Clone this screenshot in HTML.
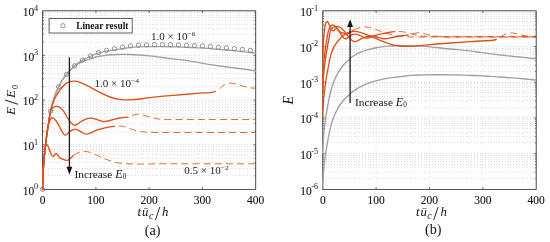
<!DOCTYPE html>
<html lang="en"><head><meta charset="utf-8"><title>Figure</title>
<style>html,body{margin:0;padding:0;background:#fff}svg{display:block}</style>
</head><body>
<svg width="550" height="242" viewBox="0 0 550 242">
<style>
text{font-family:"Liberation Serif",serif;fill:#111}
.tl{font-size:11.5px;stroke:#111;stroke-width:.1}
.sup{font-size:8.2px}
.mg{stroke:#dedede;stroke-width:1;stroke-dasharray:1 1.8;shape-rendering:crispEdges}
.Mg{stroke:#dadada;stroke-width:1;stroke-dasharray:1 1.8;shape-rendering:crispEdges}
.Vg{stroke:#dedede;stroke-width:.7;stroke-dasharray:1 1.8}
.box{fill:none;stroke:#3a3a3a;stroke-width:.9}
.tk{fill:none;stroke:#3a3a3a;stroke-width:.7}
.m{font-style:italic}
.an{font-size:9.8px;fill:#222}
</style>
<rect width="550" height="242" fill="#fff"/>
<g id="pa">
<line x1="42.6" x2="255.7" y1="175.96" y2="175.96" class="mg"/>
<line x1="42.6" x2="255.7" y1="168.1" y2="168.1" class="mg"/>
<line x1="42.6" x2="255.7" y1="162.52" y2="162.52" class="mg"/>
<line x1="42.6" x2="255.7" y1="158.19" y2="158.19" class="mg"/>
<line x1="42.6" x2="255.7" y1="154.66" y2="154.66" class="mg"/>
<line x1="42.6" x2="255.7" y1="151.67" y2="151.67" class="mg"/>
<line x1="42.6" x2="255.7" y1="149.08" y2="149.08" class="mg"/>
<line x1="42.6" x2="255.7" y1="146.79" y2="146.79" class="mg"/>
<line x1="42.6" x2="255.7" y1="131.31" y2="131.31" class="mg"/>
<line x1="42.6" x2="255.7" y1="123.45" y2="123.45" class="mg"/>
<line x1="42.6" x2="255.7" y1="117.87" y2="117.87" class="mg"/>
<line x1="42.6" x2="255.7" y1="113.54" y2="113.54" class="mg"/>
<line x1="42.6" x2="255.7" y1="110.01" y2="110.01" class="mg"/>
<line x1="42.6" x2="255.7" y1="107.02" y2="107.02" class="mg"/>
<line x1="42.6" x2="255.7" y1="104.43" y2="104.43" class="mg"/>
<line x1="42.6" x2="255.7" y1="102.14" y2="102.14" class="mg"/>
<line x1="42.6" x2="255.7" y1="86.66" y2="86.66" class="mg"/>
<line x1="42.6" x2="255.7" y1="78.8" y2="78.8" class="mg"/>
<line x1="42.6" x2="255.7" y1="73.22" y2="73.22" class="mg"/>
<line x1="42.6" x2="255.7" y1="68.89" y2="68.89" class="mg"/>
<line x1="42.6" x2="255.7" y1="65.36" y2="65.36" class="mg"/>
<line x1="42.6" x2="255.7" y1="62.37" y2="62.37" class="mg"/>
<line x1="42.6" x2="255.7" y1="59.78" y2="59.78" class="mg"/>
<line x1="42.6" x2="255.7" y1="57.49" y2="57.49" class="mg"/>
<line x1="42.6" x2="255.7" y1="42.01" y2="42.01" class="mg"/>
<line x1="42.6" x2="255.7" y1="34.15" y2="34.15" class="mg"/>
<line x1="42.6" x2="255.7" y1="28.57" y2="28.57" class="mg"/>
<line x1="42.6" x2="255.7" y1="24.24" y2="24.24" class="mg"/>
<line x1="42.6" x2="255.7" y1="20.71" y2="20.71" class="mg"/>
<line x1="42.6" x2="255.7" y1="17.72" y2="17.72" class="mg"/>
<line x1="42.6" x2="255.7" y1="15.13" y2="15.13" class="mg"/>
<line x1="42.6" x2="255.7" y1="12.84" y2="12.84" class="mg"/>
<line x1="42.6" x2="255.7" y1="144.75" y2="144.75" class="Mg"/>
<line x1="42.6" x2="255.7" y1="100.1" y2="100.1" class="Mg"/>
<line x1="42.6" x2="255.7" y1="55.45" y2="55.45" class="Mg"/>
<line x1="95.88" x2="95.88" y1="10.8" y2="189.4" class="Vg"/>
<line x1="149.15" x2="149.15" y1="10.8" y2="189.4" class="Vg"/>
<line x1="202.42" x2="202.42" y1="10.8" y2="189.4" class="Vg"/>
<rect x="42.6" y="10.8" width="213.1" height="178.6" class="box"/>
<path d="M95.88 189.4v-2.2M95.88 10.8v2.2M149.15 189.4v-2.2M149.15 10.8v2.2M202.42 189.4v-2.2M202.42 10.8v2.2M42.6 175.96h1.2M255.7 175.96h-1.2M42.6 168.1h1.2M255.7 168.1h-1.2M42.6 162.52h1.2M255.7 162.52h-1.2M42.6 158.19h1.2M255.7 158.19h-1.2M42.6 154.66h1.2M255.7 154.66h-1.2M42.6 151.67h1.2M255.7 151.67h-1.2M42.6 149.08h1.2M255.7 149.08h-1.2M42.6 146.79h1.2M255.7 146.79h-1.2M42.6 144.75h2.2M255.7 144.75h-2.2M42.6 131.31h1.2M255.7 131.31h-1.2M42.6 123.45h1.2M255.7 123.45h-1.2M42.6 117.87h1.2M255.7 117.87h-1.2M42.6 113.54h1.2M255.7 113.54h-1.2M42.6 110.01h1.2M255.7 110.01h-1.2M42.6 107.02h1.2M255.7 107.02h-1.2M42.6 104.43h1.2M255.7 104.43h-1.2M42.6 102.14h1.2M255.7 102.14h-1.2M42.6 100.1h2.2M255.7 100.1h-2.2M42.6 86.66h1.2M255.7 86.66h-1.2M42.6 78.8h1.2M255.7 78.8h-1.2M42.6 73.22h1.2M255.7 73.22h-1.2M42.6 68.89h1.2M255.7 68.89h-1.2M42.6 65.36h1.2M255.7 65.36h-1.2M42.6 62.37h1.2M255.7 62.37h-1.2M42.6 59.78h1.2M255.7 59.78h-1.2M42.6 57.49h1.2M255.7 57.49h-1.2M42.6 55.45h2.2M255.7 55.45h-2.2M42.6 42.01h1.2M255.7 42.01h-1.2M42.6 34.15h1.2M255.7 34.15h-1.2M42.6 28.57h1.2M255.7 28.57h-1.2M42.6 24.24h1.2M255.7 24.24h-1.2M42.6 20.71h1.2M255.7 20.71h-1.2M42.6 17.72h1.2M255.7 17.72h-1.2M42.6 15.13h1.2M255.7 15.13h-1.2M42.6 12.84h1.2M255.7 12.84h-1.2" class="tk"/>
<clipPath id="ca"><rect x="39.6" y="10.8" width="216.7" height="181.6"/></clipPath>
<g clip-path="url(#ca)">
<path d="M42.6 189.4C42.62 187.27 42.64 185.15 42.69 183C42.75 180.7 42.83 178.38 42.94 176C43.07 173.37 43.22 170.68 43.39 168C43.57 165.32 43.77 162.66 44 160C44.22 157.33 44.47 154.67 44.74 152C45.02 149.33 45.31 146.66 45.63 144C45.94 141.33 46.28 138.66 46.64 136C47 133.33 47.38 130.66 47.78 128C48.19 125.33 48.62 122.67 49.04 120C49.5 117.11 49.95 114.22 50.59 111.1C51.47 106.78 52.7 102.03 54.2 97.6C55.51 93.73 57.02 90.12 58.6 86.8C59.76 84.36 60.95 82.09 62.3 80C63.57 78.04 64.97 76.24 66.57 74.3C68.9 71.48 71.65 68.36 74.56 65.8C77.11 63.56 79.78 61.76 82.56 60.19C85.15 58.71 87.83 57.43 90.55 56.25C93.18 55.11 95.84 54.08 98.54 53.22C101.17 52.38 103.84 51.72 106.53 51.18C109.18 50.66 111.85 50.26 114.52 49.85C117.19 49.45 119.85 49.03 122.51 48.61C125.17 48.18 127.83 47.74 130.5 47.44C133.16 47.14 135.83 46.98 138.5 46.87C141.16 46.77 143.82 46.73 146.49 46.7C149.15 46.66 151.81 46.64 154.48 46.62C157.14 46.6 159.81 46.59 162.47 46.61C165.13 46.62 167.8 46.67 170.46 46.72C173.12 46.77 175.79 46.82 178.45 46.94C181.12 47.06 183.78 47.25 186.44 47.36C189.11 47.46 191.77 47.47 194.43 47.57C197.1 47.67 199.76 47.87 202.42 48.04C205.09 48.21 207.76 48.36 210.42 48.61C213.08 48.85 215.74 49.19 218.41 49.42C221.07 49.65 223.73 49.78 226.4 49.99C229.07 50.19 231.74 50.48 234.39 50.75C237.04 51.03 239.68 51.29 242.38 51.57C245.08 51.85 247.85 52.15 250.37 52.49C252.24 52.74 253.97 53.02 255.7 53.3" fill="none" stroke="#a0a0a0" stroke-width="1.35" stroke-linejoin="round"/>
<path d="M42.6 189.4C42.62 187.27 42.64 185.15 42.69 183C42.75 180.7 42.83 178.38 42.94 176C43.07 173.37 43.22 170.68 43.39 168C43.57 165.32 43.77 162.66 44 160C44.22 157.33 44.47 154.67 44.74 152C45.02 149.33 45.31 146.66 45.63 144C45.94 141.33 46.28 138.66 46.64 136C47 133.33 47.38 130.66 47.78 128C48.19 125.33 48.62 122.67 49.04 120C49.5 117.11 49.96 114.22 50.59 111.1C51.46 106.78 52.68 102.02 54.2 97.6C55.52 93.76 57.05 90.17 58.6 86.9C59.75 84.48 60.9 82.24 62.3 80.1C63.62 78.09 65.17 76.16 66.6 74.4C67.74 73 68.8 71.71 70 70.4C71.37 68.9 72.91 67.39 74.6 66.1C76.3 64.8 78.14 63.73 80 62.8C81.66 61.97 83.34 61.25 85 60.6C86.63 59.96 88.25 59.39 90 58.8C91.98 58.14 94.12 57.46 96 57C97.37 56.67 98.6 56.45 100 56.2C102.3 55.79 105.04 55.3 107.8 55C111.15 54.64 114.51 54.56 118 54.5C121.94 54.43 126.05 54.39 130 54.5C133.44 54.59 136.76 54.8 140 55C143.24 55.2 146.4 55.4 150 55.8C156.08 56.48 163.4 57.77 170 58.6C175.31 59.27 180.15 59.65 185 60.3C189.87 60.95 194.75 61.88 200 62.8C206.51 63.94 213.59 65.08 220 66C225.15 66.74 229.87 67.33 235 68C240.13 68.67 245.68 69.4 250 70C252.09 70.29 253.9 70.54 255.7 70.8" fill="none" stroke="#a0a0a0" stroke-width="1.35" stroke-linejoin="round"/>
<path d="M42.6 189.4C42.62 187.27 42.64 185.15 42.69 183C42.75 180.7 42.83 178.38 42.94 176C43.07 173.37 43.22 170.68 43.39 168C43.57 165.32 43.77 162.66 44 160C44.22 157.33 44.47 154.67 44.74 152C45.02 149.33 45.31 146.66 45.63 144C45.94 141.33 46.28 138.67 46.64 136C47 133.33 47.38 130.65 47.78 128C48.19 125.35 48.62 122.72 49.04 120C49.5 117.05 49.95 113.98 50.59 111.1C51.13 108.62 51.82 106.28 52.6 104C53.35 101.8 54.2 99.65 55.3 97.5C56.61 94.95 58.27 92.39 60 90C61.53 87.89 63.11 85.91 65 84.4C66.53 83.17 68.27 82.25 70 81.7C71.42 81.25 72.84 81.05 74.3 81.1C76.12 81.16 78.02 81.59 80 82.3C83.21 83.45 86.66 85.31 90 87.1C93.39 88.92 96.67 90.67 100 92.4C103.26 94.09 106.57 95.77 110 97C113.26 98.17 116.62 98.94 120 99.4C123.31 99.85 126.65 100.01 130 99.9C133.36 99.79 136.74 99.41 140 99C143.27 98.58 146.43 98.13 150 97.7C155.98 96.97 163.12 96.3 170 95.7C176.88 95.1 183.51 94.56 190 94C195.23 93.55 200.37 93.07 205 92.9C207.75 92.8 210.33 92.8 212.5 92.3C213.83 91.99 215.02 91.5 216.2 91" fill="none" stroke="#de5018" stroke-width="1.35" stroke-linejoin="round"/>
<path d="M216.2 91.1C217.63 90.04 219.06 88.97 220.5 87.8C222.09 86.51 223.7 85.09 225.5 84.2C227.18 83.37 229.02 83 231 83.1C234.13 83.25 237.61 84.57 241 85.6C244.13 86.55 247.18 87.25 250 87.7C251.98 88.02 253.84 88.21 255.7 88.4" fill="none" stroke="#de5018" stroke-width="0.85" stroke-dasharray="7 4.1" stroke-dashoffset="7" stroke-linejoin="round"/>
<path d="M42.6 189.4C42.62 187.27 42.64 185.15 42.69 183C42.75 180.7 42.83 178.38 42.94 176C43.07 173.37 43.22 170.68 43.39 168C43.57 165.32 43.77 162.66 44 160C44.22 157.33 44.47 154.67 44.74 152C45.02 149.33 45.31 146.66 45.63 144C45.95 141.33 46.29 138.68 46.64 136C47 133.32 47.36 130.62 47.78 128C48.2 125.37 48.67 122.82 49.04 120C49.45 116.94 49.73 113.57 50.59 111.1C50.99 109.92 51.53 108.95 52.3 108.2C52.99 107.53 53.87 107.04 54.8 106.7C55.76 106.36 56.77 106.18 57.8 106.4C59.61 106.79 61.48 108.41 62.9 110.2C64.48 112.2 65.48 114.41 66.7 116.5C67.71 118.24 68.87 119.88 69.9 121.3C70.57 122.22 71.18 123.05 72 123.8C72.78 124.51 73.74 125.16 74.7 125.2C75.66 125.24 76.61 124.7 77.5 124.1C78.58 123.37 79.56 122.56 80.7 121.8C82.21 120.79 84 119.87 85.8 119.2C87.47 118.58 89.15 118.17 90.9 118.2C92.99 118.24 95.18 118.9 97.3 119.7C99.42 120.5 101.45 121.46 103.6 121.6C105.72 121.74 107.95 121.1 110 120.5C111.73 119.99 113.33 119.52 115 119.1C116.65 118.68 118.38 118.3 120 118C121.36 117.74 122.66 117.54 124 117.4C125.46 117.25 126.98 117.17 128.5 117.1" fill="none" stroke="#de5018" stroke-width="1.35" stroke-linejoin="round"/>
<path d="M128.5 117.1C129.81 116.52 131.12 115.93 132.5 115.4C133.95 114.84 135.47 114.34 137 114.2C138.5 114.06 140.01 114.26 141.5 114.6C143.03 114.95 144.54 115.45 146 115.9C147.34 116.31 148.64 116.69 150 117.1C151.6 117.58 153.27 118.11 155 118.5C157.17 118.99 159.43 119.25 162 119.4C167.2 119.7 173.7 119.56 180 119.5C186.82 119.44 193.39 119.48 200 119.5C206.61 119.52 213.27 119.5 220 119.5C226.73 119.5 233.54 119.5 240 119.5C245.39 119.5 250.55 119.5 255.7 119.5" fill="none" stroke="#de5018" stroke-width="0.85" stroke-dasharray="7 4.1" stroke-dashoffset="7.3" stroke-linejoin="round"/>
<path d="M42.6 189.4C42.62 187.27 42.64 185.15 42.69 183C42.75 180.7 42.83 178.38 42.94 176C43.07 173.37 43.22 170.68 43.39 168C43.57 165.32 43.77 162.66 44 160C44.22 157.34 44.47 154.67 44.74 152C45.01 149.33 45.31 146.65 45.63 144C45.95 141.34 46.3 138.7 46.64 136C46.98 133.29 47.3 130.51 47.78 128C48.14 126.1 48.6 124.35 49.1 122.6C49.5 121.19 49.93 119.78 50.8 118.8C51.33 118.2 52.02 117.77 52.7 117.8C53.94 117.86 55.16 119.45 56.2 121C57.56 123.02 58.62 124.98 59.6 126.8C60.27 128.05 60.9 129.22 61.5 130.4C62.05 131.49 62.58 132.58 63.3 133.6C63.81 134.33 64.42 135.03 65.1 135.1C65.72 135.16 66.4 134.7 67 134.2C67.73 133.59 68.33 132.94 69 132.3C69.75 131.58 70.58 130.86 71.5 130.3C72.41 129.74 73.39 129.34 74.5 129.3C76.11 129.24 77.98 129.95 79.5 130.8C80.78 131.52 81.81 132.34 83 133C84.09 133.61 85.3 134.08 86.5 134.1C87.68 134.12 88.84 133.68 90 133.2C91.21 132.7 92.42 132.14 93.5 131.6C94.35 131.18 95.12 130.76 96 130.4C97.44 129.81 99.19 129.37 101.1 128.9C103.97 128.19 107.21 127.42 110 126.9C111.79 126.56 113.4 126.33 115 126.1" fill="none" stroke="#de5018" stroke-width="1.35" stroke-linejoin="round"/>
<path d="M115 126.1C116.7 126.01 118.41 125.92 120 126C121.36 126.07 122.64 126.26 124 126.6C125.91 127.08 127.98 127.86 130 128.6C132.02 129.34 133.99 130.05 136 130.6C137.96 131.14 139.94 131.52 142 131.8C144.52 132.14 147.14 132.31 150 132.4C154.57 132.55 159.75 132.52 165 132.5C171.51 132.48 178.14 132.49 185 132.5C193.11 132.51 201.56 132.5 210 132.5C218.44 132.5 226.87 132.5 235 132.5C242.05 132.5 248.88 132.5 255.7 132.5" fill="none" stroke="#de5018" stroke-width="0.85" stroke-dasharray="7 4.1" stroke-dashoffset="7.3" stroke-linejoin="round"/>
<path d="M42.6 189.4C42.62 187.27 42.64 185.15 42.69 183C42.75 180.7 42.84 178.38 42.94 176C43.06 173.37 43.21 170.67 43.39 168C43.58 165.33 43.81 162.68 44 160C44.17 157.45 44.31 154.88 44.6 152.5C44.81 150.73 45.11 149.08 45.4 147.5C45.58 146.53 45.76 145.58 46.3 145C46.54 144.74 46.85 144.56 47.1 144.6C47.61 144.69 47.9 145.71 48.2 146.6C48.74 148.2 49.3 149.35 50 151.3C50.79 153.5 51.76 156.74 53 156.4C53.97 156.14 55.1 153.71 56.1 153.5C57.34 153.24 58.38 156.41 59.8 157.8C60.89 158.86 62.2 158.87 63.5 159.3C64.79 159.72 66.09 160.56 67.3 160.4C68.69 160.22 69.98 158.76 71.1 157.6C71.96 156.71 72.73 156.01 73.5 155.3" fill="none" stroke="#de5018" stroke-width="1.35" stroke-linejoin="round"/>
<path d="M73.5 155.3C74.46 154.61 75.42 153.92 76.5 153.4C77.72 152.81 79.1 152.42 80.5 152.1C82.05 151.74 83.63 151.46 85.3 151.5C87.65 151.56 90.19 152.28 92.7 153.3C95.74 154.54 98.75 156.22 101.6 157.5C103.78 158.48 105.88 159.22 108 160C110.24 160.83 112.51 161.71 115 162.3C118.15 163.05 121.64 163.35 125 163.6C128.34 163.85 131.55 164.04 135 164.1C139.67 164.18 144.77 164 150 163.9C156.48 163.78 163.15 163.79 170 163.8C178.09 163.81 186.44 163.8 195 163.8C204.82 163.8 214.92 163.8 225 163.8C235.25 163.8 245.48 163.8 255.7 163.8" fill="none" stroke="#de5018" stroke-width="0.85" stroke-dasharray="7 4.1" stroke-dashoffset="0" stroke-linejoin="round"/>
<circle cx="42.6" cy="189.4" r="2.15" fill="none" stroke="#868686" stroke-width=".9"/>
<circle cx="50.59" cy="111.1" r="2.15" fill="none" stroke="#868686" stroke-width=".9"/>
<circle cx="58.58" cy="86.8" r="2.15" fill="none" stroke="#868686" stroke-width=".9"/>
<circle cx="66.57" cy="74.3" r="2.15" fill="none" stroke="#868686" stroke-width=".9"/>
<circle cx="74.56" cy="65.8" r="2.15" fill="none" stroke="#868686" stroke-width=".9"/>
<circle cx="82.56" cy="60.1" r="2.15" fill="none" stroke="#868686" stroke-width=".9"/>
<circle cx="90.55" cy="55.9" r="2.15" fill="none" stroke="#868686" stroke-width=".9"/>
<circle cx="98.54" cy="52.6" r="2.15" fill="none" stroke="#868686" stroke-width=".9"/>
<circle cx="106.53" cy="50.3" r="2.15" fill="none" stroke="#868686" stroke-width=".9"/>
<circle cx="114.52" cy="48.7" r="2.15" fill="none" stroke="#868686" stroke-width=".9"/>
<circle cx="122.51" cy="47.2" r="2.15" fill="none" stroke="#868686" stroke-width=".9"/>
<circle cx="130.5" cy="45.9" r="2.15" fill="none" stroke="#868686" stroke-width=".9"/>
<circle cx="138.5" cy="45.2" r="2.15" fill="none" stroke="#868686" stroke-width=".9"/>
<circle cx="146.49" cy="44.9" r="2.15" fill="none" stroke="#868686" stroke-width=".9"/>
<circle cx="154.48" cy="44.7" r="2.15" fill="none" stroke="#868686" stroke-width=".9"/>
<circle cx="162.47" cy="44.6" r="2.15" fill="none" stroke="#868686" stroke-width=".9"/>
<circle cx="170.46" cy="44.7" r="2.15" fill="none" stroke="#868686" stroke-width=".9"/>
<circle cx="178.45" cy="44.9" r="2.15" fill="none" stroke="#868686" stroke-width=".9"/>
<circle cx="186.44" cy="45.3" r="2.15" fill="none" stroke="#868686" stroke-width=".9"/>
<circle cx="194.43" cy="45.5" r="2.15" fill="none" stroke="#868686" stroke-width=".9"/>
<circle cx="202.42" cy="45.95" r="2.15" fill="none" stroke="#868686" stroke-width=".9"/>
<circle cx="210.42" cy="46.5" r="2.15" fill="none" stroke="#868686" stroke-width=".9"/>
<circle cx="218.41" cy="47.3" r="2.15" fill="none" stroke="#868686" stroke-width=".9"/>
<circle cx="226.4" cy="47.85" r="2.15" fill="none" stroke="#868686" stroke-width=".9"/>
<circle cx="234.39" cy="48.6" r="2.15" fill="none" stroke="#868686" stroke-width=".9"/>
<circle cx="242.38" cy="49.4" r="2.15" fill="none" stroke="#868686" stroke-width=".9"/>
<circle cx="250.37" cy="50.3" r="2.15" fill="none" stroke="#868686" stroke-width=".9"/>
</g>
<path d="M69.4 57.3V167.5" stroke="#1c1c1c" stroke-width="1.3" fill="none"/>
<path d="M69.4 174.4l-2.9 -7.6h5.8z" fill="#111"/>
<text x="74.4" y="177.6" style="font-size:11.4px">Increase <tspan class="m" style="font-size:12px">E</tspan><tspan dx=".2" dy="1.2" style="font-size:7.2px">0</tspan></text>
<rect x="49.1" y="18.5" width="83.1" height="14.5" fill="#fff" stroke="#3a3a3a" stroke-width=".8"/>
<circle cx="63" cy="25.75" r="2.15" fill="none" stroke="#868686" stroke-width=".9"/>
<text x="76.2" y="29.4" style="font-size:10.6px;font-weight:bold" textLength="52.2" lengthAdjust="spacingAndGlyphs">Linear result</text>
<text x="151" y="39.6" class="an" textLength="44.6" lengthAdjust="spacingAndGlyphs">1.0 × 10<tspan dy="-4" style="font-size:6.7px">−6</tspan></text>
<text x="94.4" y="87" class="an" textLength="44.6" lengthAdjust="spacingAndGlyphs">1.0 × 10<tspan dy="-4" style="font-size:6.7px">−4</tspan></text>
<text x="184.2" y="174.3" class="an" textLength="44.6" lengthAdjust="spacingAndGlyphs">0.5 × 10<tspan dy="-4" style="font-size:6.7px">−2</tspan></text>
<text x="42.6" y="204.1" class="tl" text-anchor="middle">0</text>
<text x="95.88" y="204.1" class="tl" text-anchor="middle">100</text>
<text x="149.15" y="204.1" class="tl" text-anchor="middle">200</text>
<text x="202.42" y="204.1" class="tl" text-anchor="middle">300</text>
<text x="255.7" y="204.1" class="tl" text-anchor="middle">400</text>
<text x="34.2" y="194.7" class="tl" text-anchor="end">10</text>
<text x="33.9" y="189.3" class="sup" text-anchor="start">0</text>
<text x="34.2" y="150.05" class="tl" text-anchor="end">10</text>
<text x="33.9" y="144.65" class="sup" text-anchor="start">1</text>
<text x="34.2" y="105.4" class="tl" text-anchor="end">10</text>
<text x="33.9" y="100" class="sup" text-anchor="start">2</text>
<text x="34.2" y="60.75" class="tl" text-anchor="end">10</text>
<text x="33.9" y="55.35" class="sup" text-anchor="start">3</text>
<text x="34.2" y="16.1" class="tl" text-anchor="end">10</text>
<text x="33.9" y="10.7" class="sup" text-anchor="start">4</text>
<text y="216.4" class="m" style="font-size:12.8px"><tspan x="137.5">t</tspan><tspan x="142">ū</tspan><tspan x="148.9" dy="2.1" style="font-size:10px">c</tspan><tspan x="154.9" dy="1.6" style="font-size:19px;font-style:normal">/</tspan><tspan x="162.1" dy="-3.7">h</tspan></text>
<text x="152.7" y="234.5" text-anchor="middle" style="font-size:14.2px">(a)</text>
<text transform="translate(15.4 114.8) rotate(-90)" class="m" style="font-size:13.4px"><tspan x="-0.3">E</tspan><tspan x="10" dy="3" style="font-size:19px;font-style:normal">/</tspan><tspan x="16.9" dy="-3">E</tspan><tspan x="25.7" dy="2.1" style="font-size:8.4px;font-style:normal">0</tspan></text>
</g>
<g id="pb">
<line x1="322.75" x2="536.2" y1="178.65" y2="178.65" class="mg"/>
<line x1="322.75" x2="536.2" y1="172.36" y2="172.36" class="mg"/>
<line x1="322.75" x2="536.2" y1="167.89" y2="167.89" class="mg"/>
<line x1="322.75" x2="536.2" y1="164.43" y2="164.43" class="mg"/>
<line x1="322.75" x2="536.2" y1="161.6" y2="161.6" class="mg"/>
<line x1="322.75" x2="536.2" y1="159.21" y2="159.21" class="mg"/>
<line x1="322.75" x2="536.2" y1="157.14" y2="157.14" class="mg"/>
<line x1="322.75" x2="536.2" y1="155.31" y2="155.31" class="mg"/>
<line x1="322.75" x2="536.2" y1="142.93" y2="142.93" class="mg"/>
<line x1="322.75" x2="536.2" y1="136.64" y2="136.64" class="mg"/>
<line x1="322.75" x2="536.2" y1="132.17" y2="132.17" class="mg"/>
<line x1="322.75" x2="536.2" y1="128.71" y2="128.71" class="mg"/>
<line x1="322.75" x2="536.2" y1="125.88" y2="125.88" class="mg"/>
<line x1="322.75" x2="536.2" y1="123.49" y2="123.49" class="mg"/>
<line x1="322.75" x2="536.2" y1="121.42" y2="121.42" class="mg"/>
<line x1="322.75" x2="536.2" y1="119.59" y2="119.59" class="mg"/>
<line x1="322.75" x2="536.2" y1="107.21" y2="107.21" class="mg"/>
<line x1="322.75" x2="536.2" y1="100.92" y2="100.92" class="mg"/>
<line x1="322.75" x2="536.2" y1="96.45" y2="96.45" class="mg"/>
<line x1="322.75" x2="536.2" y1="92.99" y2="92.99" class="mg"/>
<line x1="322.75" x2="536.2" y1="90.16" y2="90.16" class="mg"/>
<line x1="322.75" x2="536.2" y1="87.77" y2="87.77" class="mg"/>
<line x1="322.75" x2="536.2" y1="85.7" y2="85.7" class="mg"/>
<line x1="322.75" x2="536.2" y1="83.87" y2="83.87" class="mg"/>
<line x1="322.75" x2="536.2" y1="71.49" y2="71.49" class="mg"/>
<line x1="322.75" x2="536.2" y1="65.2" y2="65.2" class="mg"/>
<line x1="322.75" x2="536.2" y1="60.73" y2="60.73" class="mg"/>
<line x1="322.75" x2="536.2" y1="57.27" y2="57.27" class="mg"/>
<line x1="322.75" x2="536.2" y1="54.44" y2="54.44" class="mg"/>
<line x1="322.75" x2="536.2" y1="52.05" y2="52.05" class="mg"/>
<line x1="322.75" x2="536.2" y1="49.98" y2="49.98" class="mg"/>
<line x1="322.75" x2="536.2" y1="48.15" y2="48.15" class="mg"/>
<line x1="322.75" x2="536.2" y1="35.77" y2="35.77" class="mg"/>
<line x1="322.75" x2="536.2" y1="29.48" y2="29.48" class="mg"/>
<line x1="322.75" x2="536.2" y1="25.01" y2="25.01" class="mg"/>
<line x1="322.75" x2="536.2" y1="21.55" y2="21.55" class="mg"/>
<line x1="322.75" x2="536.2" y1="18.72" y2="18.72" class="mg"/>
<line x1="322.75" x2="536.2" y1="16.33" y2="16.33" class="mg"/>
<line x1="322.75" x2="536.2" y1="14.26" y2="14.26" class="mg"/>
<line x1="322.75" x2="536.2" y1="12.43" y2="12.43" class="mg"/>
<line x1="322.75" x2="536.2" y1="153.68" y2="153.68" class="Mg"/>
<line x1="322.75" x2="536.2" y1="117.96" y2="117.96" class="Mg"/>
<line x1="322.75" x2="536.2" y1="82.24" y2="82.24" class="Mg"/>
<line x1="322.75" x2="536.2" y1="46.52" y2="46.52" class="Mg"/>
<line x1="376.11" x2="376.11" y1="10.8" y2="189.4" class="Vg"/>
<line x1="429.48" x2="429.48" y1="10.8" y2="189.4" class="Vg"/>
<line x1="482.84" x2="482.84" y1="10.8" y2="189.4" class="Vg"/>
<rect x="322.75" y="10.8" width="213.45" height="178.6" class="box"/>
<path d="M376.11 189.4v-2.2M376.11 10.8v2.2M429.48 189.4v-2.2M429.48 10.8v2.2M482.84 189.4v-2.2M482.84 10.8v2.2M322.75 178.65h1.2M536.2 178.65h-1.2M322.75 172.36h1.2M536.2 172.36h-1.2M322.75 167.89h1.2M536.2 167.89h-1.2M322.75 164.43h1.2M536.2 164.43h-1.2M322.75 161.6h1.2M536.2 161.6h-1.2M322.75 159.21h1.2M536.2 159.21h-1.2M322.75 157.14h1.2M536.2 157.14h-1.2M322.75 155.31h1.2M536.2 155.31h-1.2M322.75 153.68h2.2M536.2 153.68h-2.2M322.75 142.93h1.2M536.2 142.93h-1.2M322.75 136.64h1.2M536.2 136.64h-1.2M322.75 132.17h1.2M536.2 132.17h-1.2M322.75 128.71h1.2M536.2 128.71h-1.2M322.75 125.88h1.2M536.2 125.88h-1.2M322.75 123.49h1.2M536.2 123.49h-1.2M322.75 121.42h1.2M536.2 121.42h-1.2M322.75 119.59h1.2M536.2 119.59h-1.2M322.75 117.96h2.2M536.2 117.96h-2.2M322.75 107.21h1.2M536.2 107.21h-1.2M322.75 100.92h1.2M536.2 100.92h-1.2M322.75 96.45h1.2M536.2 96.45h-1.2M322.75 92.99h1.2M536.2 92.99h-1.2M322.75 90.16h1.2M536.2 90.16h-1.2M322.75 87.77h1.2M536.2 87.77h-1.2M322.75 85.7h1.2M536.2 85.7h-1.2M322.75 83.87h1.2M536.2 83.87h-1.2M322.75 82.24h2.2M536.2 82.24h-2.2M322.75 71.49h1.2M536.2 71.49h-1.2M322.75 65.2h1.2M536.2 65.2h-1.2M322.75 60.73h1.2M536.2 60.73h-1.2M322.75 57.27h1.2M536.2 57.27h-1.2M322.75 54.44h1.2M536.2 54.44h-1.2M322.75 52.05h1.2M536.2 52.05h-1.2M322.75 49.98h1.2M536.2 49.98h-1.2M322.75 48.15h1.2M536.2 48.15h-1.2M322.75 46.52h2.2M536.2 46.52h-2.2M322.75 35.77h1.2M536.2 35.77h-1.2M322.75 29.48h1.2M536.2 29.48h-1.2M322.75 25.01h1.2M536.2 25.01h-1.2M322.75 21.55h1.2M536.2 21.55h-1.2M322.75 18.72h1.2M536.2 18.72h-1.2M322.75 16.33h1.2M536.2 16.33h-1.2M322.75 14.26h1.2M536.2 14.26h-1.2M322.75 12.43h1.2M536.2 12.43h-1.2" class="tk"/>
<clipPath id="cb"><rect x="321.75" y="10.8" width="214.95" height="179.2"/></clipPath>
<g clip-path="url(#cb)">
<path d="M322.75 189C322.77 187.3 322.79 185.6 322.84 183.88C322.9 182.04 322.98 180.18 323.1 178.28C323.22 176.18 323.37 174.02 323.54 171.88C323.72 169.74 323.92 167.61 324.15 165.48C324.38 163.35 324.63 161.21 324.9 159.08C325.17 156.94 325.47 154.81 325.78 152.68C326.1 150.54 326.44 148.41 326.8 146.28C327.16 144.14 327.53 142.01 327.94 139.88C328.35 137.74 328.78 135.61 329.2 133.48C329.67 131.16 330.12 128.85 330.75 126.36C331.64 122.88 332.88 119.08 334.37 115.56C335.69 112.44 337.21 109.55 338.78 106.92C339.95 104.95 341.15 103.13 342.48 101.48C343.76 99.89 345.17 98.46 346.76 96.92C349.12 94.65 351.9 92.14 354.77 90.12C357.36 88.3 360.03 86.87 362.77 85.63C365.39 84.44 368.07 83.42 370.78 82.48C373.42 81.57 376.09 80.74 378.78 80.05C381.43 79.38 384.1 78.85 386.79 78.43C389.45 78.01 392.12 77.69 394.79 77.36C397.46 77.04 400.13 76.71 402.79 76.37C405.46 76.03 408.12 75.67 410.8 75.43C413.46 75.19 416.13 75.06 418.8 74.98C421.47 74.9 424.14 74.87 426.81 74.84C429.47 74.81 432.14 74.79 434.81 74.77C437.48 74.76 440.15 74.75 442.82 74.76C445.48 74.78 448.15 74.82 450.82 74.86C453.49 74.9 456.16 74.93 458.82 75.03C461.49 75.13 464.16 75.28 466.83 75.36C469.5 75.45 472.17 75.46 474.83 75.54C477.5 75.62 480.17 75.77 482.84 75.91C485.51 76.05 488.18 76.17 490.84 76.36C493.51 76.56 496.18 76.83 498.85 77.02C501.51 77.2 504.18 77.31 506.85 77.47C509.52 77.64 512.2 77.86 514.86 78.08C517.51 78.3 520.15 78.51 522.86 78.74C525.57 78.96 528.34 79.2 530.86 79.47C532.73 79.67 534.47 79.9 536.2 80.12" fill="none" stroke="#a0a0a0" stroke-width="1.35" stroke-linejoin="round"/>
<path d="M322.75 153.68C322.77 151.98 322.79 150.28 322.84 148.56C322.9 146.72 322.98 144.86 323.1 142.96C323.22 140.86 323.37 138.7 323.54 136.56C323.72 134.42 323.92 132.29 324.15 130.16C324.38 128.03 324.63 125.89 324.9 123.76C325.17 121.62 325.47 119.49 325.78 117.36C326.1 115.22 326.44 113.09 326.8 110.96C327.16 108.82 327.53 106.69 327.94 104.56C328.35 102.42 328.78 100.29 329.2 98.16C329.67 95.84 330.12 93.53 330.75 91.04C331.63 87.56 332.86 83.75 334.37 80.24C335.7 77.14 337.23 74.28 338.78 71.68C339.94 69.73 341.1 67.93 342.48 66.24C343.82 64.61 345.36 63.08 346.79 61.68C347.93 60.56 349.01 59.52 350.2 58.48C351.58 57.27 353.14 56.06 354.8 55.04C356.53 53.99 358.37 53.13 360.21 52.4C361.89 51.73 363.56 51.16 365.22 50.64C366.86 50.13 368.48 49.67 370.23 49.2C372.21 48.67 374.36 48.13 376.24 47.76C377.61 47.49 378.84 47.32 380.24 47.12C382.55 46.79 385.3 46.4 388.06 46.16C391.41 45.87 394.78 45.81 398.27 45.76C402.22 45.71 406.34 45.67 410.29 45.76C413.74 45.83 417.07 46 420.31 46.16C423.56 46.32 426.72 46.48 430.33 46.8C436.41 47.35 443.75 48.37 450.36 49.04C455.68 49.58 460.52 49.88 465.38 50.4C470.26 50.92 475.15 51.66 480.41 52.4C486.93 53.31 494.03 54.23 500.44 54.96C505.6 55.55 510.33 56.03 515.47 56.56C520.61 57.09 526.16 57.68 530.49 58.16C532.59 58.39 534.39 58.6 536.2 58.8" fill="none" stroke="#a0a0a0" stroke-width="1.35" stroke-linejoin="round"/>
<path d="M322.75 117.96C322.77 116.26 322.79 114.56 322.84 112.84C322.9 111 322.98 109.14 323.1 107.24C323.22 105.14 323.37 102.98 323.54 100.84C323.72 98.7 323.92 96.57 324.15 94.44C324.38 92.31 324.63 90.17 324.9 88.04C325.17 85.9 325.47 83.77 325.78 81.64C326.1 79.51 326.44 77.37 326.8 75.24C327.16 73.1 327.53 70.96 327.94 68.84C328.35 66.72 328.78 64.62 329.2 62.44C329.67 60.07 330.12 57.62 330.75 55.32C331.3 53.33 331.99 51.45 332.77 49.64C333.53 47.86 334.39 46.14 335.47 44.44C336.79 42.37 338.46 40.32 340.18 38.44C341.74 36.73 343.35 35.14 345.19 33.96C346.76 32.95 348.49 32.23 350.2 31.8C351.63 31.44 353.04 31.28 354.5 31.32C356.32 31.37 358.21 31.71 360.21 32.28C363.39 33.19 366.87 34.68 370.23 36.12C373.63 37.58 376.91 38.98 380.24 40.36C383.53 41.72 386.86 43.06 390.26 44.04C393.55 44.99 396.91 45.59 400.28 45.96C403.6 46.32 406.94 46.45 410.29 46.36C413.65 46.27 417.04 45.97 420.31 45.64C423.59 45.31 426.75 44.95 430.33 44.6C436.32 44.02 443.47 43.48 450.36 43C457.25 42.52 463.89 42.09 470.39 41.64C475.63 41.28 480.79 40.89 485.42 40.76C488.17 40.68 490.74 40.69 492.93 40.28C494.26 40.03 495.45 39.64 496.64 39.24" fill="none" stroke="#de5018" stroke-width="1.35" stroke-linejoin="round"/>
<path d="M496.64 39.32C498.06 38.47 499.49 37.62 500.94 36.68C502.55 35.64 504.19 34.51 505.95 33.8C507.66 33.11 509.48 32.83 511.46 32.92C514.57 33.06 518.07 34.1 521.48 34.92C524.62 35.68 527.67 36.24 530.49 36.6C532.47 36.85 534.34 37.01 536.2 37.16" fill="none" stroke="#de5018" stroke-width="0.85" stroke-dasharray="7 4.1" stroke-dashoffset="7" stroke-linejoin="round"/>
<path d="M322.75 92.99C322.77 91.29 322.79 89.59 322.84 87.87C322.9 86.03 322.98 84.17 323.1 82.27C323.22 80.17 323.37 78.01 323.54 75.87C323.72 73.73 323.92 71.6 324.15 69.47C324.38 67.34 324.63 65.21 324.9 63.07C325.17 60.94 325.46 58.8 325.78 56.67C326.1 54.54 326.44 52.41 326.8 50.27C327.15 48.13 327.52 45.97 327.94 43.87C328.36 41.77 328.83 39.73 329.2 37.47C329.61 35.02 329.91 32.29 330.75 30.35C331.17 29.38 331.73 28.61 332.47 28.03C333.18 27.47 334.06 27.09 334.97 26.83C335.93 26.55 336.93 26.41 337.97 26.59C339.72 26.91 341.62 28.15 343.08 29.63C344.61 31.18 345.67 33 346.89 34.67C347.92 36.08 349.07 37.39 350.09 38.51C350.78 39.26 351.41 39.93 352.2 40.51C352.99 41.1 353.95 41.6 354.9 41.63C355.86 41.67 356.81 41.24 357.71 40.75C358.78 40.18 359.77 39.52 360.91 38.91C362.45 38.09 364.25 37.36 366.02 36.83C367.71 36.33 369.38 36.01 371.13 36.03C373.21 36.06 375.41 36.59 377.54 37.23C379.66 37.87 381.71 38.63 383.85 38.75C385.98 38.87 388.21 38.35 390.26 37.87C391.99 37.47 393.6 37.09 395.27 36.75C396.93 36.42 398.65 36.12 400.28 35.87C401.64 35.67 402.94 35.5 404.28 35.39C405.75 35.27 407.27 35.21 408.79 35.15" fill="none" stroke="#de5018" stroke-width="1.35" stroke-linejoin="round"/>
<path d="M408.79 35.15C410.11 34.68 411.43 34.21 412.8 33.79C414.26 33.34 415.78 32.95 417.31 32.83C418.81 32.72 420.31 32.88 421.81 33.15C423.34 33.43 424.85 33.83 426.32 34.19C427.66 34.52 428.97 34.83 430.33 35.15C431.93 35.54 433.61 35.96 435.33 36.27C437.52 36.67 439.77 36.87 442.35 36.99C447.55 37.24 454.07 37.12 460.38 37.07C467.2 37.02 473.78 37.06 480.41 37.07C487.03 37.09 493.7 37.08 500.44 37.07C507.18 37.07 514 37.07 520.47 37.07C525.87 37.07 531.04 37.07 536.2 37.07" fill="none" stroke="#de5018" stroke-width="0.85" stroke-dasharray="7 4.1" stroke-dashoffset="7.3" stroke-linejoin="round"/>
<path d="M322.75 82.24C322.77 80.54 322.79 78.84 322.84 77.12C322.9 75.28 322.98 73.42 323.1 71.52C323.22 69.42 323.37 67.26 323.54 65.12C323.72 62.98 323.92 60.85 324.15 58.72C324.38 56.59 324.63 54.45 324.9 52.32C325.17 50.18 325.46 48.04 325.78 45.92C326.1 43.79 326.46 41.68 326.8 39.52C327.14 37.35 327.47 35.13 327.94 33.12C328.3 31.59 328.74 30.19 329.26 28.8C329.69 27.65 330.17 26.51 330.96 25.76C331.5 25.25 332.18 24.92 332.87 24.96C334.07 25.04 335.3 26.26 336.37 27.52C337.7 29.08 338.79 30.69 339.78 32.16C340.45 33.16 341.08 34.09 341.68 35.04C342.24 35.92 342.79 36.81 343.48 37.6C344.01 38.2 344.63 38.74 345.29 38.8C345.92 38.86 346.59 38.49 347.19 38.08C347.9 37.6 348.52 37.08 349.19 36.56C349.96 35.97 350.8 35.4 351.7 34.96C352.62 34.5 353.6 34.19 354.7 34.16C356.31 34.11 358.16 34.66 359.71 35.36C360.98 35.93 362.04 36.59 363.22 37.12C364.32 37.62 365.53 37.99 366.72 38C367.9 38.01 369.06 37.67 370.23 37.28C371.43 36.88 372.64 36.43 373.73 36C374.58 35.66 375.36 35.33 376.24 35.04C377.69 34.56 379.44 34.21 381.35 33.84C384.22 33.28 387.47 32.66 390.26 32.24C392.06 31.97 393.66 31.79 395.27 31.6" fill="none" stroke="#de5018" stroke-width="1.35" stroke-linejoin="round"/>
<path d="M395.27 31.6C396.98 31.53 398.68 31.46 400.28 31.52C401.63 31.57 402.91 31.72 404.28 32C406.18 32.38 408.26 33.01 410.29 33.6C412.32 34.19 414.3 34.76 416.3 35.2C418.27 35.63 420.26 35.94 422.31 36.16C424.84 36.43 427.46 36.56 430.33 36.64C434.91 36.76 440.09 36.73 445.35 36.72C451.88 36.7 458.51 36.72 465.38 36.72C473.51 36.73 481.97 36.72 490.42 36.72C498.88 36.72 507.33 36.72 515.47 36.72C522.53 36.72 529.37 36.72 536.2 36.72" fill="none" stroke="#de5018" stroke-width="0.85" stroke-dasharray="7 4.1" stroke-dashoffset="7.3" stroke-linejoin="round"/>
<path d="M322.75 57.27C322.77 55.57 322.79 53.87 322.84 52.15C322.9 50.31 322.99 48.46 323.1 46.55C323.22 44.45 323.36 42.29 323.54 40.15C323.73 38.01 323.96 35.89 324.15 33.75C324.33 31.71 324.48 29.65 324.75 27.75C324.96 26.34 325.23 25.01 325.55 23.75C325.76 22.96 325.97 22.21 326.46 21.75C326.7 21.53 327 21.38 327.26 21.43C327.73 21.53 328.05 22.33 328.36 23.03C328.91 24.28 329.47 25.26 330.16 26.79C330.97 28.56 331.97 31.08 333.17 30.87C334.15 30.7 335.26 28.71 336.27 28.55C337.51 28.36 338.61 30.88 339.98 31.99C341.1 32.91 342.4 32.87 343.68 33.19C344.97 33.52 346.25 34.21 347.49 34.07C348.85 33.92 350.15 32.76 351.3 31.83C352.16 31.13 352.93 30.56 353.7 29.99" fill="none" stroke="#de5018" stroke-width="1.35" stroke-linejoin="round"/>
<path d="M353.7 29.99C354.67 29.44 355.64 28.89 356.71 28.47C357.95 27.99 359.32 27.69 360.71 27.43C362.27 27.15 363.85 26.92 365.52 26.95C367.86 27 370.39 27.57 372.93 28.39C375.96 29.38 378.99 30.73 381.85 31.75C384.04 32.54 386.13 33.13 388.26 33.75C390.51 34.41 392.79 35.12 395.27 35.59C398.44 36.2 401.93 36.44 405.29 36.63C408.63 36.83 411.85 36.99 415.3 37.03C419.98 37.09 425.09 36.95 430.33 36.87C436.82 36.78 443.5 36.79 450.36 36.79C458.47 36.8 466.82 36.79 475.4 36.79C485.23 36.79 495.36 36.79 505.45 36.79C515.72 36.79 525.96 36.79 536.2 36.79" fill="none" stroke="#de5018" stroke-width="0.85" stroke-dasharray="7 4.1" stroke-dashoffset="0" stroke-linejoin="round"/>
</g>
<path d="M350.1 103V26" stroke="#1c1c1c" stroke-width="1.3" fill="none"/>
<path d="M350.1 19.3l-2.9 7.6h5.8z" fill="#111"/>
<text x="355" y="105.6" style="font-size:11.4px">Increase <tspan class="m" style="font-size:12px">E</tspan><tspan dx=".2" dy="1.2" style="font-size:7.2px">0</tspan></text>
<text x="322.75" y="204.1" class="tl" text-anchor="middle">0</text>
<text x="376.11" y="204.1" class="tl" text-anchor="middle">100</text>
<text x="429.48" y="204.1" class="tl" text-anchor="middle">200</text>
<text x="482.84" y="204.1" class="tl" text-anchor="middle">300</text>
<text x="536.2" y="204.1" class="tl" text-anchor="middle">400</text>
<text x="311.65" y="194.7" class="tl" text-anchor="end">10</text>
<text x="311.35" y="189.3" class="sup" text-anchor="start">-6</text>
<text x="311.65" y="158.98" class="tl" text-anchor="end">10</text>
<text x="311.35" y="153.58" class="sup" text-anchor="start">-5</text>
<text x="311.65" y="123.26" class="tl" text-anchor="end">10</text>
<text x="311.35" y="117.86" class="sup" text-anchor="start">-4</text>
<text x="311.65" y="87.54" class="tl" text-anchor="end">10</text>
<text x="311.35" y="82.14" class="sup" text-anchor="start">-3</text>
<text x="311.65" y="51.82" class="tl" text-anchor="end">10</text>
<text x="311.35" y="46.42" class="sup" text-anchor="start">-2</text>
<text x="311.65" y="16.1" class="tl" text-anchor="end">10</text>
<text x="311.35" y="10.7" class="sup" text-anchor="start">-1</text>
<text y="216.4" class="m" style="font-size:12.8px"><tspan x="415.9">t</tspan><tspan x="420.4">ū</tspan><tspan x="427.3" dy="2.1" style="font-size:10px">c</tspan><tspan x="433.3" dy="1.6" style="font-size:19px;font-style:normal">/</tspan><tspan x="440.5" dy="-3.7">h</tspan></text>
<text x="433.2" y="234.3" text-anchor="middle" style="font-size:14.2px">(b)</text>
<text transform="translate(293.1 104.3) rotate(-90)" class="m" style="font-size:13.8px"><tspan x="-0.3">E</tspan></text>
</g>
</svg>
</body></html>
